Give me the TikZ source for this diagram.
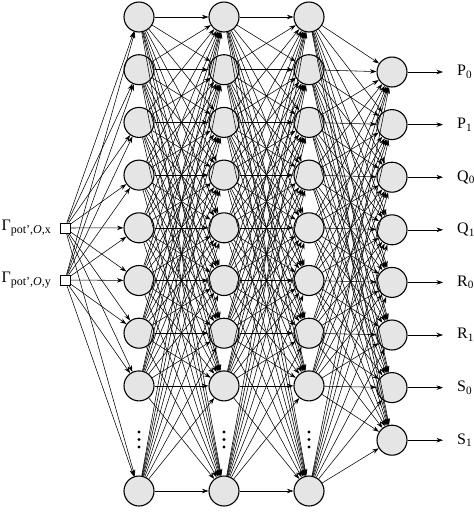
\documentclass[tikz,border=0pt]{standalone}
\usepackage{fontspec}
\setmainfont{Liberation Serif}
\usetikzlibrary{arrows.meta}

\tikzset{
  neuron/.style={circle, draw, line width=1.1pt, fill=black!10, minimum size=30pt, inner sep=0pt},
  inbox/.style={draw, line width=0.8pt, fill=white, minimum size=10pt, inner sep=0pt},
  link/.style={-{Stealth[length=6.5pt,width=4.5pt]}, line width=0.55pt},
}

\begin{document}
\begin{tikzpicture}[x=1pt,y=-1pt,font=\fontsize{16}{19}\selectfont]
  \useasboundingbox (0,0) rectangle (474,512);

  % Draw the hidden layers
  \foreach \l/\x in {1/139,2/224,3/309} {
    \foreach \r in {1,...,8} {
      \node[neuron] (h\l-\r) at (\x,{17+52.7*(\r-1)}) {};
    }
    \node[neuron] (h\l-9) at (\x,491) {};
    % the dots
    \foreach \d in {432,439.5,447} {
      \fill (\x,\d) circle [radius=1.7pt];
    }
  }

  % Draw the output layer
  \foreach \r/\txt in {1/P\textsubscript{0},2/P\textsubscript{1},3/Q\textsubscript{0},4/Q\textsubscript{1},
                       5/R\textsubscript{0},6/R\textsubscript{1},7/S\textsubscript{0},8/S\textsubscript{1}} {
    \node[neuron] (o\r) at (392,{72+52.6*(\r-1)}) {};
    \coordinate (e\r) at (443,{72+52.6*(\r-1)});
    \node[anchor=west, inner sep=0pt] (t\r) at (457,{72+52.6*(\r-1)}) {\txt};
    \draw[link] (o\r) -- (e\r);
  }

  % Draw the inputs
  \node[inbox] (x1) at (65,228) {};
  \node[inbox] (x2) at (65,280) {};
  \node[anchor=east, inner sep=0pt] (lx1) at (51.5,228) {Γ\textsubscript{\fontsize{12}{14}\selectfont pot',\textit{O},x}};
  \node[anchor=east, inner sep=0pt] (lx2) at (51.5,280) {Γ\textsubscript{\fontsize{12}{14}\selectfont pot',\textit{O},y}};

  % Connect the layers
  \foreach \i in {1,2} {
    \foreach \b in {1,...,9} {
      \draw[link] (x\i) -- (h1-\b);
    }
  }
  \foreach \a in {1,...,9} {
    \foreach \b in {1,...,9} {
      \draw[link] (h1-\a) -- (h2-\b);
      \draw[link] (h2-\a) -- (h3-\b);
    }
    \foreach \b in {1,...,8} {
      \draw[link] (h3-\a) -- (o\b);
    }
  }
\end{tikzpicture}
\end{document}
